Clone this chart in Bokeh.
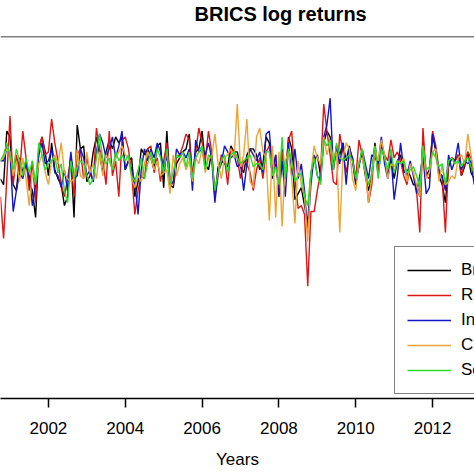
from bokeh.plotting import figure
from bokeh.models import Range1d, FixedTicker, Span, Legend, LegendItem, Title
from bokeh.embed import file_html
from bokeh.resources import INLINE

# Monthly log returns (percent), Oct 2000 .. Mar 2013
brazil = [
    -4, -6, 12,
    10, -6, -8, 3, -2, 2, -5, -8, -17, 6, 10, 5,
    -3, 8, -1, -4, -6, -13, -10, 4, -17, 14, 6, 7,
    -5, -3, 5, 10, 4, -2, 5, 9, 6, 10, 8, 10,
    -1, 2, 3, -10, -5, 6, 4, 6, 3, -1, 7, 8,
    -7, 12, -6, -7, 1, 3, 5, 6, 11, -4, 5, 6,
    12, 1, -1, 5, -10, 0, 2, 1, 0, 7, 5, 5,
    0, -2, 4, 6, 6, 4, -1, 1, 10, 8, -4, 1,
    -7, 6, -4, 10, 6, -11, -9, -7, -13, -19, -2, 2,
    4, -3, 8, 12, 10, -1, 7, 4, 8, 2, 7, 2,
    -6, 1, 4, -3, -8, -3, 8, -3, 7, 3, -3, 2,
    -4, 2, 4, -2, -1, -3, -6, -6, -10, 9, -3, -1,
    11, 5, -3, -6, -12, 0, 3, 2, 4, -3, 0, 5,
    -2, -4, -2]

russia = [
    -10, -24, -4,
    17, -6, 4, -2, 12, 3, -8, 2, -12, 6, 10, 4,
    5, 16, 8, 2, -6, -10, -4, 3, -10, 4, 6, -4,
    3, -2, -5, 13, 6, 2, -6, 12, -3, 2, -10, 9,
    10, 6, -2, -16, -8, -3, -4, 6, 7, -2, 3, -5,
    2, 8, -4, -6, 3, 4, 7, 11, 9, -3, 5, 13,
    8, 2, 12, 5, -10, -3, 4, 3, -6, 6, 5, 3,
    -4, 2, 1, -2, -8, -1, 3, -4, 5, 7, -3, 4,
    -10, 5, -3, 9, 12, -4, -14, -13, -16, -40, -15, -15,
    -8, -2, 21, 12, 4, -5, -6, 11, 5, -2, 4, 3,
    -4, 9, 4, -1, -12, -6, 7, -2, 8, 4, 2, 9,
    3, 5, 2, -3, -6, 1, -2, -8, -22, 13, -3, -4,
    12, 7, -1, -4, -22, 2, 3, 2, 4, -3, 1, 5,
    3, -3, -2]

india = [
    2, 2, 6,
    5, -15, -8, -2, -4, 1, -3, -13, -6, 4, 8, 1,
    2, 6, -2, -3, -7, -1, -8, 5, -4, -3, 6, 3,
    -3, -1, -5, 5, 11, 8, 3, 6, 10, 3, 7, 12,
    -1, 2, -1, -5, -16, -1, 6, 2, 6, 3, 8, 5,
    -1, 4, -6, -5, 6, 4, 5, 3, 6, -8, 9, 5,
    6, 4, 8, 3, -12, -2, 1, 7, 5, 3, 4, 0,
    1, -8, 1, 6, 4, 2, 5, -2, 11, 12, -1, 4,
    -10, 2, -10, 8, -3, 6, -4, 1, -8, -22, -6, 4,
    -3, -5, 10, 14, 23, -1, 7, 1, 8, -6, 6, 3,
    -5, 0, 6, 1, -4, 4, 3, 1, 10, 1, -4, 4,
    -11, -3, 8, -1, -3, 2, -3, -9, -3, 4, -9, -7,
    11, 6, -2, -3, -8, 4, -1, 2, 8, -1, 2, 1,
    2, -6, 0]

china = [
    2, 3, 6,
    5, -3, 2, -5, 3, -4, -13, -2, -5, 1, 4, -2,
    -6, 2, 4, 1, 8, -2, -4, -5, -4, 6, -3, -4,
    5, -2, 1, -4, 5, -3, 4, 2, -1, 3, 5, 7,
    4, 3, -4, -7, -3, -5, 1, 5, 3, -1, 2, -3,
    -2, -1, -9, 4, -3, 1, 3, -1, 2, -5, 3, 1,
    6, -2, 3, 3, 11, 1, -4, 3, 4, 6, 3, 21,
    0, 4, 16, -5, -7, 10, 13, 5, 3, -18, 7, -17,
    5, -20, 2, 5, -4, -19, 2, -6, -10, -25, -2, 7,
    3, 1, 10, 4, 8, 3, 5, -22, 3, 8, 6, -4,
    -8, 2, 3, -2, -12, -3, 6, 2, 9, 4, -4, 1,
    0, 2, 1, 3, -5, 1, -2, -6, -10, 7, -4, -2,
    5, 6, -5, 1, -6, -5, -3, -4, 3, 4, 1, 11,
    4, -3, -4]

south_africa = [
    2, 4, 8,
    4, -1, 6, 2, -3, 3, -2, 2, -6, 8, 4, -1,
    1, 2, 3, -2, 1, -8, -12, 2, -4, 0, 2, 1,
    -3, -6, -4, 3, 11, 2, 1, 3, -1, 5, 2, 4,
    2, 4, -3, -5, -1, 3, -4, 1, 5, 1, 6, 3,
    -2, 6, -6, -2, 4, 3, 5, 0, 5, -4, 3, 5,
    7, -1, 4, 3, -8, -2, 2, 4, -2, 4, 5, 3,
    1, 2, 3, 4, 0, 1, 1, -1, 5, 5, -3, 0,
    -6, 10, -4, 6, 2, -5, -3, -2, -10, -13, -2, 3,
    -3, -6, 9, 7, 9, -1, 8, 3, 2, 3, 4, 2,
    -4, 1, 6, -1, -6, -2, 7, -4, 6, 3, -1, 6,
    -2, 2, 1, 2, -2, -1, 0, -3, -7, 7, -1, 0,
    5, 3, 0, 1, -6, 2, 3, 1, 2, 0, 2, 3,
    0, -2, -1]

series_names = ["Brazil", "Russia", "India", "China", "South Africa"]
series_values = [brazil, russia, india, china, south_africa]
series_colors = ["#000000", "#E01414", "#1414C8", "#EBA536", "#2ADD2A"]
year_ticks = [2000, 2002, 2004, 2006, 2008, 2010, 2012, 2014]
title_text = "BRICS log returns"

start_year = 2000.75  # October 2000
dates = [start_year + i / 12.0 for i in range(len(brazil))]

FONT = "Liberation Sans"

p = figure(width=474, height=474, output_backend="svg", toolbar_location=None,
           x_range=Range1d(2000.753, 2013.091), y_range=Range1d(-77.67, 43.67),
           y_axis_location=None, min_border_left=0, min_border_right=0,
           min_border_top=34, min_border_bottom=76, title=title_text)
p.grid.visible = False
p.outline_line_color = None
p.background_fill_color = "white"
p.border_fill_color = "white"

p.title.text_font = FONT
p.title.text_font_size = "20px"
p.title.text_font_style = "bold"
p.title.text_color = "black"
p.title.align = "left"
p.title.offset = 194
p.title.standoff = 0

# thin blank spacer between the title and the plot box
p.add_layout(Title(text=" ", text_font_size="1px", standoff=9), "above")

ax = p.xaxis[0]
ax.ticker = FixedTicker(ticks=year_ticks)
ax.axis_line_color = "black"
ax.axis_line_width = 1.5
ax.major_tick_line_color = "black"
ax.major_tick_line_width = 1.5
ax.major_tick_out = 9
ax.major_tick_in = 0
ax.minor_tick_line_color = None
ax.major_label_text_font = FONT
ax.major_label_text_font_size = "17px"
ax.major_label_text_color = "black"
ax.major_label_standoff = 14
ax.axis_label = "Years"
ax.axis_label_text_font = FONT
ax.axis_label_text_font_size = "17px"
ax.axis_label_text_font_style = "normal"
ax.axis_label_text_color = "black"
ax.axis_label_standoff = 13

p.add_layout(Span(location=43.67, dimension="width", line_color="black", line_width=1.5))

items = []
for name, vals, col in zip(series_names, series_values, series_colors):
    r = p.line(dates, vals, line_color=col, line_width=1.4)
    items.append(LegendItem(label=name, renderers=[r]))

legend = Legend(items=items, location=(394, 4), border_line_color="black",
                border_line_width=1.5, background_fill_color="white",
                background_fill_alpha=1.0, label_text_font=FONT,
                label_text_font_size="17px", label_text_color="black",
                glyph_width=44, glyph_height=22, label_height=22, spacing=3,
                padding=12, label_standoff=10, margin=0)
p.add_layout(legend)

open("out.html", "w").write(file_html(p, INLINE))
